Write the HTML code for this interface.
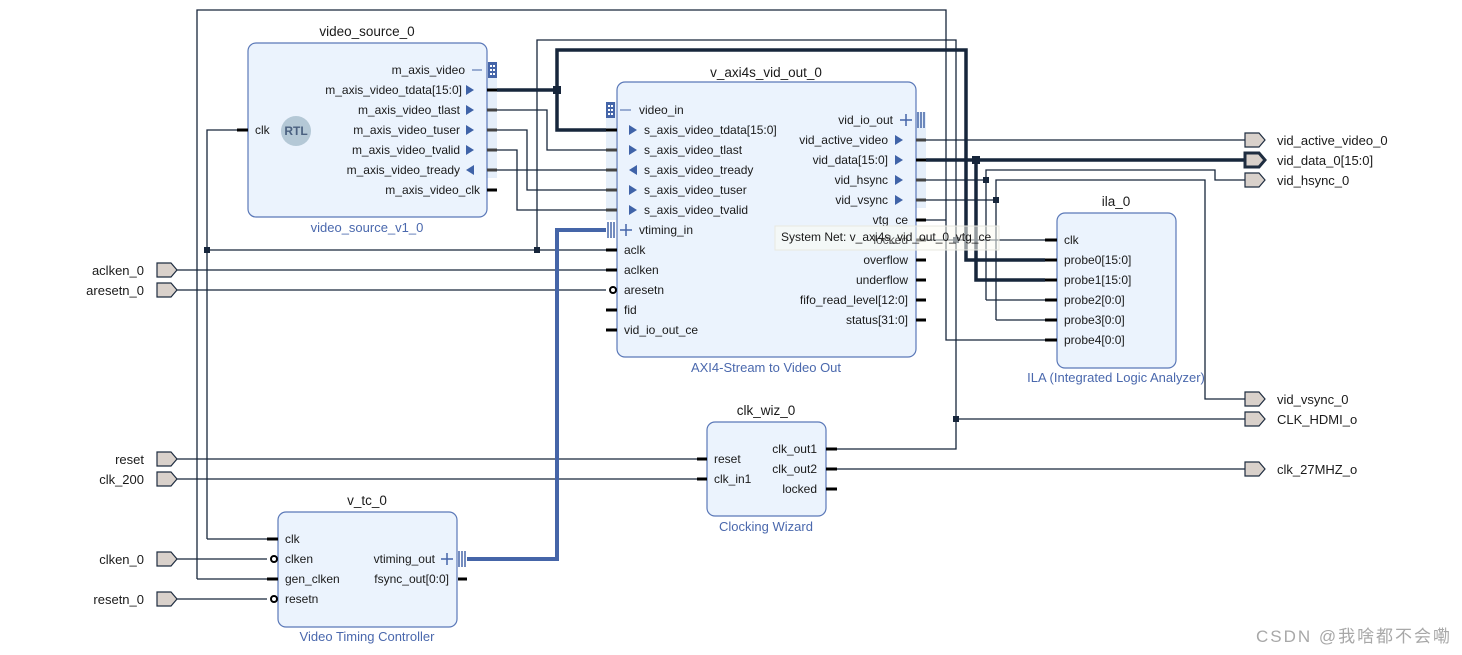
<!DOCTYPE html>
<html><head><meta charset="utf-8"><style>
html,body{margin:0;padding:0;background:#fff;}
svg{display:block;}
text{font-family:"Liberation Sans","Noto Sans CJK SC",sans-serif;font-size:12px;fill:#1a1a1a;}
.t{font-size:13.5px;}
.s{font-size:13px;fill:#4a68ad;}
.blk{fill:#ebf3fd;stroke:#5a78b8;stroke-width:1.2;}
.w{stroke:#17263b;stroke-width:1.3;fill:none;}
.tw{stroke:#17263b;stroke-width:3.5;fill:none;}
.st{stroke:#000;stroke-width:3;}
.tri{fill:#3f63a8;}
.port{fill:#d9d1cb;stroke:#1f2d40;stroke-width:1.2;}
.r{text-anchor:end;}
.c{text-anchor:middle;}
</style></head><body>
<svg width="1462" height="655" viewBox="0 0 1462 655" xmlns="http://www.w3.org/2000/svg">
<rect x="487" y="62" width="10" height="116" fill="#e6effa"/>
<rect x="606" y="102" width="10" height="118" fill="#e6effa"/>
<rect x="916" y="112" width="10" height="96" fill="#e6effa"/>

<g class="w">
<polyline points="197,579 197,10 946,10 946,340 1045,340"/>
<line x1="926" y1="220" x2="946" y2="220"/>
<polyline points="207,539 207,130 237,130"/>
<line x1="207" y1="539" x2="267" y2="539"/>
<line x1="207" y1="250" x2="606" y2="250"/>
<polyline points="537,250 537,40 956,40 956,449 837,449"/>
<line x1="956" y1="419" x2="1245" y2="419"/>
<line x1="926" y1="240" x2="1045" y2="240"/>
<line x1="197" y1="579" x2="267" y2="579"/>
<polyline points="497,110 547,110 547,150 606,150"/>
<polyline points="497,130 527,130 527,190 606,190"/>
<polyline points="497,150 517,150 517,210 606,210"/>
<line x1="497" y1="170" x2="606" y2="170"/>
<line x1="177" y1="270" x2="606" y2="270"/>
<line x1="177" y1="290" x2="606" y2="290"/>
<line x1="177" y1="459" x2="697" y2="459"/>
<line x1="177" y1="479" x2="697" y2="479"/>
<line x1="177" y1="559" x2="267" y2="559"/>
<line x1="177" y1="599" x2="267" y2="599"/>
<line x1="926" y1="140" x2="1245" y2="140"/>
<line x1="926" y1="180" x2="986" y2="180"/>
<polyline points="986,300 986,170 1215,170 1215,180 1245,180"/>
<line x1="986" y1="300" x2="1045" y2="300"/>
<line x1="926" y1="200" x2="996" y2="200"/>
<polyline points="996,320 996,180 1205,180 1205,399 1245,399"/>
<line x1="996" y1="320" x2="1045" y2="320"/>
<line x1="837" y1="469" x2="1245" y2="469"/>
</g>
<g class="tw">
<polyline points="497,90 557,90"/>
<polyline points="606,130 557,130 557,50 966,50 966,260 1045,260"/>
<line x1="926" y1="160" x2="1245" y2="160"/>
<polyline points="976,160 976,280 1045,280"/>
</g>
<polyline points="467,559 557,559 557,230 606,230" fill="none" stroke="#4565a8" stroke-width="4"/>
<g fill="#17263b">
<rect x="204" y="247" width="6" height="6"/><rect x="534" y="247" width="6" height="6"/>
<rect x="553" y="86" width="8" height="8"/><rect x="953" y="416" width="6" height="6"/>
<rect x="953" y="237" width="6" height="6"/>
<rect x="972" y="156" width="8" height="8"/><rect x="983" y="177" width="6" height="6"/>
<rect x="993" y="197" width="6" height="6"/>
</g>

<text x="367" y="36" class="t c">video_source_0</text>
<rect class="blk" x="248" y="43" width="239" height="174" rx="8"/>
<text x="367" y="232" class="s c">video_source_v1_0</text>
<circle cx="296" cy="131" r="15" fill="#b4c8d6"/>
<text x="296" y="135" class="c" style="font-weight:bold;font-size:12px;fill:#4a6080">RTL</text>
<line class="st" x1="237" y1="130" x2="248" y2="130"/>
<text x="255" y="134">clk</text>
<g class="r">
<text x="465" y="74">m_axis_video</text>
<text x="462" y="94">m_axis_video_tdata[15:0]</text>
<text x="460" y="114">m_axis_video_tlast</text>
<text x="460" y="134">m_axis_video_tuser</text>
<text x="460" y="154">m_axis_video_tvalid</text>
<text x="460" y="174">m_axis_video_tready</text>
<text x="480" y="194">m_axis_video_clk</text>
</g>
<line x1="472" y1="70" x2="482" y2="70" stroke="#4565a8"/>
<rect x="488" y="62" width="9" height="16" fill="#4565a8"/>
<g fill="#fff"><rect x="490" y="65" width="2" height="2"/><rect x="493" y="65" width="2" height="2"/><rect x="490" y="69" width="2" height="2"/><rect x="493" y="69" width="2" height="2"/><rect x="490" y="73" width="2" height="2"/><rect x="493" y="73" width="2" height="2"/></g>
<g class="tri">
<polygon points="466,85 474,90 466,95"/><polygon points="466,105 474,110 466,115"/><polygon points="466,125 474,130 466,135"/><polygon points="466,145 474,150 466,155"/><polygon points="474,165 466,170 474,175"/>
</g>
<g class="st"><line x1="487" y1="90" x2="497" y2="90"/><line x1="487" y1="110" x2="497" y2="110" stroke="#444"/><line x1="487" y1="130" x2="497" y2="130" stroke="#444"/><line x1="487" y1="150" x2="497" y2="150" stroke="#444"/><line x1="487" y1="170" x2="497" y2="170" stroke="#444"/><line x1="487" y1="190" x2="497" y2="190"/></g>

<text x="766" y="77" class="t c">v_axi4s_vid_out_0</text>
<rect class="blk" x="617" y="82" width="299" height="275" rx="8"/>
<text x="766" y="372" class="s c">AXI4-Stream to Video Out</text>
<rect x="606" y="102" width="9" height="16" fill="#4565a8"/>
<g fill="#fff"><rect x="608" y="105" width="2" height="2"/><rect x="611" y="105" width="2" height="2"/><rect x="608" y="109" width="2" height="2"/><rect x="611" y="109" width="2" height="2"/><rect x="608" y="113" width="2" height="2"/><rect x="611" y="113" width="2" height="2"/></g>
<line x1="620" y1="110" x2="631" y2="110" stroke="#4565a8"/>
<text x="639" y="114">video_in</text>
<g class="tri">
<polygon points="629,125 637,130 629,135"/><polygon points="629,145 637,150 629,155"/><polygon points="637,165 629,170 637,175"/><polygon points="629,185 637,190 629,195"/><polygon points="629,205 637,210 629,215"/>
</g>
<text x="644" y="134">s_axis_video_tdata[15:0]</text>
<text x="644" y="154">s_axis_video_tlast</text>
<text x="644" y="174">s_axis_video_tready</text>
<text x="644" y="194">s_axis_video_tuser</text>
<text x="644" y="214">s_axis_video_tvalid</text>
<g stroke="#4565a8" stroke-width="1.5"><line x1="620" y1="230" x2="632" y2="230"/><line x1="626" y1="224" x2="626" y2="236"/>
<line x1="608" y1="222" x2="608" y2="238"/><line x1="611" y1="222" x2="611" y2="238"/><line x1="614" y1="222" x2="614" y2="238"/></g>
<text x="639" y="234">vtiming_in</text>
<text x="624" y="254">aclk</text><text x="624" y="274">aclken</text><text x="624" y="294">aresetn</text><text x="624" y="314">fid</text><text x="624" y="334">vid_io_out_ce</text>
<g class="st">
<line x1="606" y1="130" x2="617" y2="130"/><line x1="606" y1="150" x2="617" y2="150" stroke="#444"/><line x1="606" y1="170" x2="617" y2="170" stroke="#444"/><line x1="606" y1="190" x2="617" y2="190" stroke="#444"/><line x1="606" y1="210" x2="617" y2="210" stroke="#444"/>
<line x1="606" y1="250" x2="617" y2="250"/><line x1="606" y1="270" x2="617" y2="270"/><line x1="606" y1="310" x2="617" y2="310"/><line x1="606" y1="330" x2="617" y2="330"/>
</g>
<circle cx="613" cy="290" r="3" fill="#fff" stroke="#000" stroke-width="2"/>
<g class="r">
<text x="893" y="124">vid_io_out</text>
<text x="888" y="144">vid_active_video</text>
<text x="888" y="164">vid_data[15:0]</text>
<text x="888" y="184">vid_hsync</text>
<text x="888" y="204">vid_vsync</text>
<text x="908" y="224">vtg_ce</text>
<text x="908" y="264">overflow</text>
<text x="908" y="284">underflow</text>
<text x="908" y="304">fifo_read_level[12:0]</text>
<text x="908" y="324">status[31:0]</text>
</g>
<g stroke="#4565a8" stroke-width="1.5"><line x1="900" y1="120" x2="912" y2="120"/><line x1="906" y1="114" x2="906" y2="126"/>
<line x1="918" y1="112" x2="918" y2="128"/><line x1="921" y1="112" x2="921" y2="128"/><line x1="924" y1="112" x2="924" y2="128"/></g>
<g class="tri">
<polygon points="895,135 903,140 895,145"/><polygon points="895,155 903,160 895,165"/><polygon points="895,175 903,180 895,185"/><polygon points="895,195 903,200 895,205"/>
</g>
<g class="st">
<line x1="916" y1="140" x2="926" y2="140" stroke="#444"/><line x1="916" y1="160" x2="926" y2="160"/><line x1="916" y1="180" x2="926" y2="180" stroke="#444"/><line x1="916" y1="200" x2="926" y2="200" stroke="#444"/>
<line x1="916" y1="220" x2="926" y2="220"/><line x1="916" y1="240" x2="926" y2="240"/><line x1="916" y1="260" x2="926" y2="260"/><line x1="916" y1="280" x2="926" y2="280"/><line x1="916" y1="300" x2="926" y2="300"/><line x1="916" y1="320" x2="926" y2="320"/>
</g>
<rect x="775" y="226" width="224" height="24" fill="#fbfcf2" fill-opacity="0.55" stroke="#e8e8e0"/>
<text x="908" y="244" class="r" style="fill:#555">locked</text>
<text x="781" y="241">System Net: v_axi4s_vid_out_0_vtg_ce</text>

<text x="1116" y="206" class="t c">ila_0</text>
<rect class="blk" x="1057" y="213" width="119" height="155" rx="8"/>
<text x="1116" y="382" class="s c">ILA (Integrated Logic Analyzer)</text>
<text x="1064" y="244">clk</text><text x="1064" y="264">probe0[15:0]</text><text x="1064" y="284">probe1[15:0]</text><text x="1064" y="304">probe2[0:0]</text><text x="1064" y="324">probe3[0:0]</text><text x="1064" y="344">probe4[0:0]</text>
<g class="st"><line x1="1045" y1="240" x2="1057" y2="240"/><line x1="1045" y1="260" x2="1057" y2="260"/><line x1="1045" y1="280" x2="1057" y2="280"/><line x1="1045" y1="300" x2="1057" y2="300"/><line x1="1045" y1="320" x2="1057" y2="320"/><line x1="1045" y1="340" x2="1057" y2="340"/></g>

<text x="766" y="415" class="t c">clk_wiz_0</text>
<rect class="blk" x="707" y="422" width="119" height="94" rx="8"/>
<text x="766" y="531" class="s c">Clocking Wizard</text>
<text x="714" y="463">reset</text><text x="714" y="483">clk_in1</text>
<text x="817" y="453" class="r">clk_out1</text><text x="817" y="473" class="r">clk_out2</text><text x="817" y="493" class="r">locked</text>
<g class="st"><line x1="697" y1="459" x2="707" y2="459"/><line x1="697" y1="479" x2="707" y2="479"/><line x1="826" y1="449" x2="837" y2="449"/><line x1="826" y1="469" x2="837" y2="469"/><line x1="826" y1="489" x2="837" y2="489"/></g>

<text x="367" y="505" class="t c">v_tc_0</text>
<rect class="blk" x="278" y="512" width="179" height="115" rx="8"/>
<text x="367" y="641" class="s c">Video Timing Controller</text>
<text x="285" y="543">clk</text><text x="285" y="563">clken</text><text x="285" y="583">gen_clken</text><text x="285" y="603">resetn</text>
<text x="435" y="563" class="r">vtiming_out</text><text x="449" y="583" class="r">fsync_out[0:0]</text>
<g class="st"><line x1="267" y1="539" x2="278" y2="539"/><line x1="267" y1="579" x2="278" y2="579"/><line x1="458" y1="579" x2="467" y2="579"/></g>
<circle cx="274" cy="559" r="3" fill="#fff" stroke="#000" stroke-width="2"/>
<circle cx="274" cy="599" r="3" fill="#fff" stroke="#000" stroke-width="2"/>
<g stroke="#4565a8" stroke-width="1.5"><line x1="441" y1="559" x2="453" y2="559"/><line x1="447" y1="553" x2="447" y2="565"/>
<line x1="459" y1="551" x2="459" y2="567"/><line x1="462" y1="551" x2="462" y2="567"/><line x1="465" y1="551" x2="465" y2="567"/></g>

<g class="port">
<polygon points="157,263 171,263 177,270 171,277 157,277"/>
<polygon points="157,283 171,283 177,290 171,297 157,297"/>
<polygon points="157,452 171,452 177,459 171,466 157,466"/>
<polygon points="157,472 171,472 177,479 171,486 157,486"/>
<polygon points="157,552 171,552 177,559 171,566 157,566"/>
<polygon points="157,592 171,592 177,599 171,606 157,606"/>
</g>
<g class="r">
<text x="144" y="275" style="font-size:13px">aclken_0</text>
<text x="144" y="295" style="font-size:13px">aresetn_0</text>
<text x="144" y="464" style="font-size:13px">reset</text>
<text x="144" y="484" style="font-size:13px">clk_200</text>
<text x="144" y="564" style="font-size:13px">clken_0</text>
<text x="144" y="604" style="font-size:13px">resetn_0</text>
</g>
<g class="port">
<polygon points="1245,133 1259,133 1265,140 1259,147 1245,147"/>
<polygon points="1245,153 1259,153 1265,160 1259,167 1245,167" stroke-width="3"/>
<polygon points="1245,173 1259,173 1265,180 1259,187 1245,187"/>
<polygon points="1245,392 1259,392 1265,399 1259,406 1245,406"/>
<polygon points="1245,412 1259,412 1265,419 1259,426 1245,426"/>
<polygon points="1245,462 1259,462 1265,469 1259,476 1245,476"/>
</g>
<g>
<text x="1277" y="145" style="font-size:13px">vid_active_video_0</text>
<text x="1277" y="165" style="font-size:13px">vid_data_0[15:0]</text>
<text x="1277" y="185" style="font-size:13px">vid_hsync_0</text>
<text x="1277" y="404" style="font-size:13px">vid_vsync_0</text>
<text x="1277" y="424" style="font-size:13px">CLK_HDMI_o</text>
<text x="1277" y="474" style="font-size:13px">clk_27MHZ_o</text>
</g>
<text x="1256" y="642" style="font-size:17px;fill:#a8a8a8" textLength="194">CSDN @我啥都不会嘞</text>
</svg>
</body></html>
